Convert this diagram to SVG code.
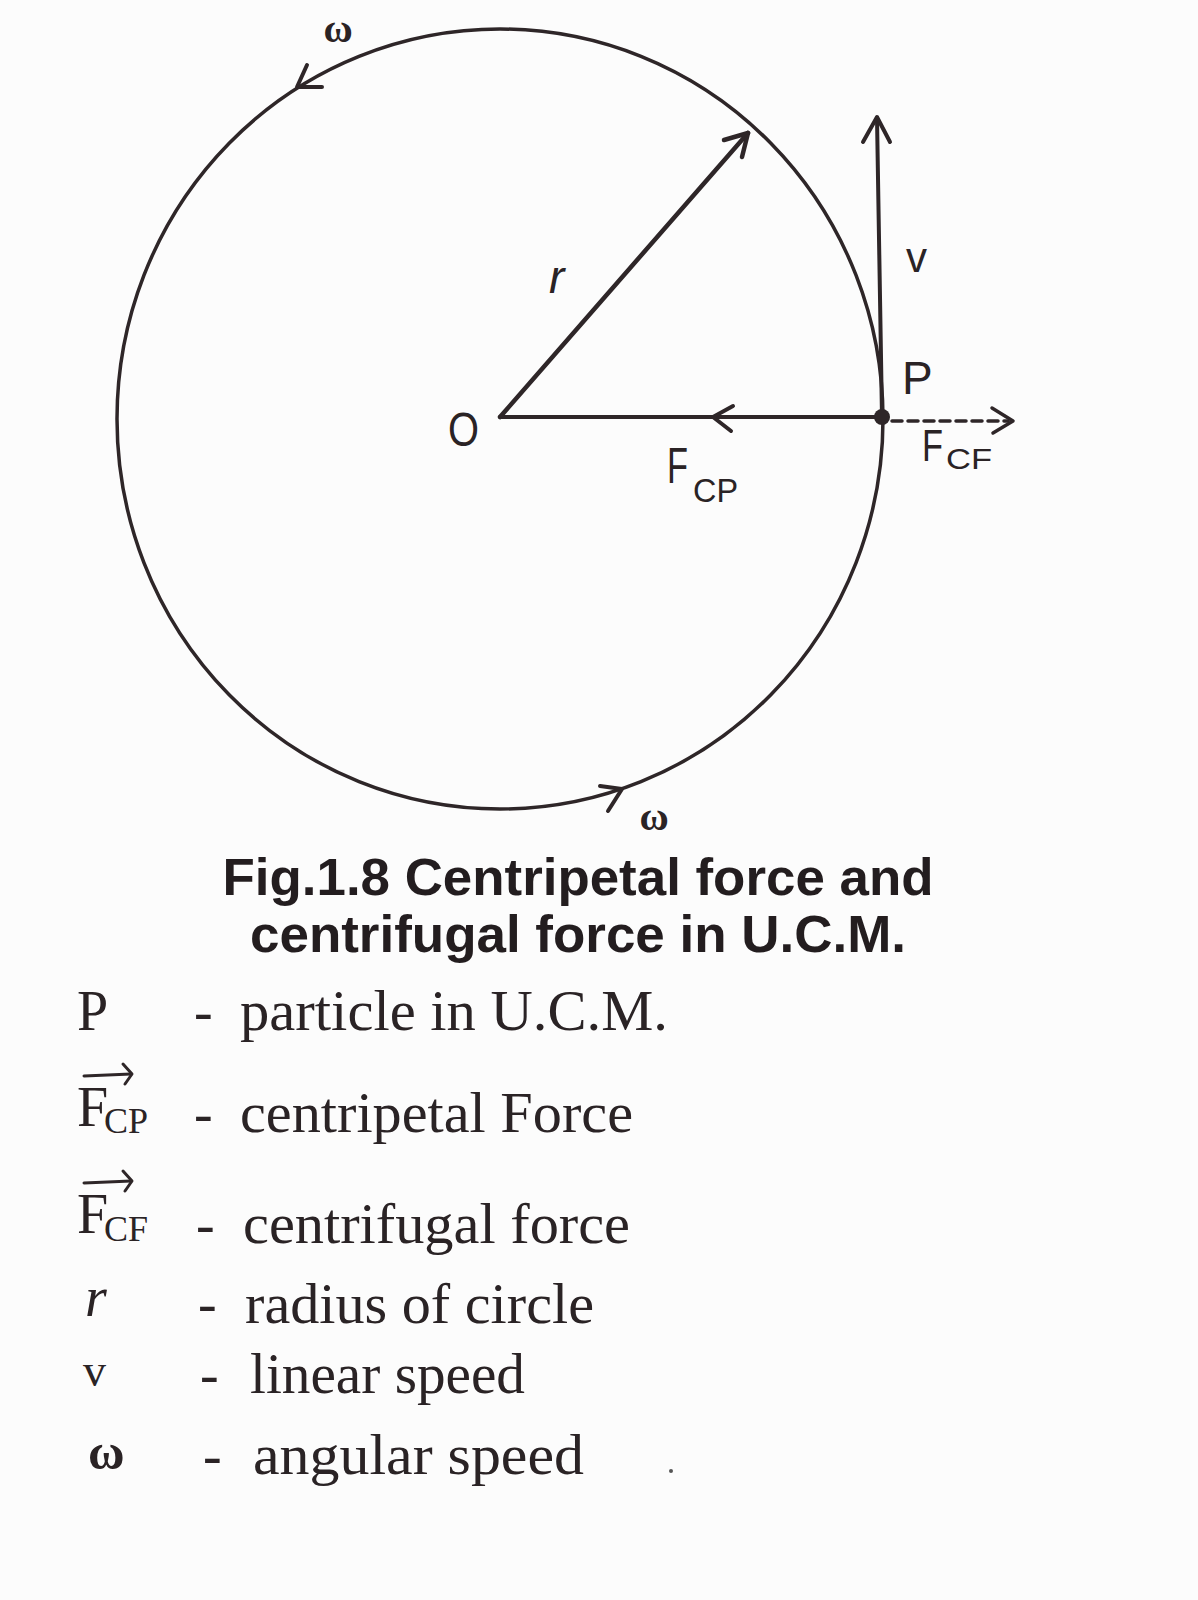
<svg xmlns="http://www.w3.org/2000/svg" width="1198" height="1600" viewBox="0 0 1198 1600">
<style>
.ln{fill:none;stroke:#2e2628;stroke-linecap:round;stroke-linejoin:round}
.sans{font-family:"Liberation Sans",Arial,sans-serif;fill:#2a2325}
.serif{font-family:"Liberation Serif","Times New Roman",serif;fill:#2a2325}
.cap{font-family:"Liberation Sans",Arial,sans-serif;font-weight:bold;fill:#231d1f}
</style>
<rect width="1198" height="1600" fill="#fcfcfc"/>
<g id="circle">
<ellipse class="ln" cx="500" cy="419" rx="383" ry="390" stroke-width="3.5"/>
</g>
<g id="connectors">
<path class="ln" stroke-width="4" d="M307,65 L297,87 L322,87"/>
<path class="ln" stroke-width="4" d="M600,786 L622,789 L608,811"/>
<line class="ln" stroke-width="4.5" x1="500" y1="417" x2="748" y2="133"/>
<path class="ln" stroke-width="4.5" d="M724,140 L748,133 L742,157"/>
<line class="ln" stroke-width="4" x1="500" y1="417" x2="882" y2="417"/>
<path class="ln" stroke-width="4" d="M733,406 L713,417 L731,431"/>
<line class="ln" stroke-width="4" x1="882" y1="417" x2="877" y2="118"/>
<path class="ln" stroke-width="4" d="M863,142 L877,117 L890,142"/>
<line class="ln" stroke-width="3.5" x1="892" y1="421" x2="1008" y2="421" stroke-dasharray="10 6" stroke-linecap="butt"/>
<path class="ln" stroke-width="3.5" d="M992,408 L1013,421 L993,433"/>
</g>
<g id="P">
<circle cx="882" cy="417" r="8" fill="#2e2628"/>
<text class="sans" x="902" y="394" font-size="46">P</text>
</g>
<g id="O">
<text class="sans" x="448" y="446" font-size="48" textLength="31" lengthAdjust="spacingAndGlyphs">O</text>
</g>
<g id="labels">
<text class="sans" x="549" y="293" font-size="46" font-style="italic">r</text>
<text class="sans" x="906" y="272" font-size="42">v</text>
<text class="sans" x="667" y="483" font-size="50" textLength="21" lengthAdjust="spacingAndGlyphs">F</text>
<text class="sans" x="693" y="502" font-size="34" textLength="45" lengthAdjust="spacingAndGlyphs">CP</text>
<text class="sans" x="922" y="461" font-size="44" textLength="21" lengthAdjust="spacingAndGlyphs">F</text>
<text class="sans" x="946" y="469" font-size="30" textLength="46" lengthAdjust="spacingAndGlyphs">CF</text>
<text class="serif" x="338" y="42" font-size="40" font-weight="bold" text-anchor="middle">ω</text>
<text class="serif" x="654" y="830" font-size="40" font-weight="bold" text-anchor="middle">ω</text>
</g>
<g id="caption">
<text class="cap" x="578" y="895" font-size="52" text-anchor="middle" textLength="711" lengthAdjust="spacingAndGlyphs">Fig.1.8 Centripetal force and</text>
<text class="cap" x="578" y="952" font-size="52" text-anchor="middle" textLength="656" lengthAdjust="spacingAndGlyphs">centrifugal force in U.C.M.</text>
</g>
<g id="legend" font-size="56">
<text class="serif" x="77" y="1030">P</text>
<text class="serif" x="194" y="1030">-</text>
<text class="serif" x="240" y="1030" textLength="428" lengthAdjust="spacingAndGlyphs">particle in U.C.M.</text>

<line class="ln" stroke-width="3" x1="84" y1="1076" x2="131" y2="1074"/>
<path class="ln" stroke-width="3" d="M123,1064 L132,1074 L125,1084"/>
<text class="serif" x="77" y="1126">F</text>
<text class="serif" x="104" y="1133" font-size="36">CP</text>
<text class="serif" x="194" y="1132">-</text>
<text class="serif" x="240" y="1132" textLength="393" lengthAdjust="spacingAndGlyphs">centripetal Force</text>

<line class="ln" stroke-width="3" x1="84" y1="1183" x2="131" y2="1181"/>
<path class="ln" stroke-width="3" d="M123,1171 L132,1181 L125,1191"/>
<text class="serif" x="77" y="1233">F</text>
<text class="serif" x="104" y="1241" font-size="36">CF</text>
<text class="serif" x="196" y="1243">-</text>
<text class="serif" x="243" y="1243" textLength="387" lengthAdjust="spacingAndGlyphs">centrifugal force</text>

<text class="serif" x="85" y="1316" font-style="italic">r</text>
<text class="serif" x="198" y="1322">-</text>
<text class="serif" x="245" y="1323" textLength="349" lengthAdjust="spacingAndGlyphs">radius of circle</text>

<text class="serif" x="83" y="1386" font-size="46">v</text>
<text class="serif" x="200" y="1393">-</text>
<text class="serif" x="250" y="1393" textLength="275" lengthAdjust="spacingAndGlyphs">linear speed</text>

<text class="serif" x="88" y="1469" font-size="50" font-weight="bold">ω</text>
<text class="serif" x="203" y="1474">-</text>
<text class="serif" x="253" y="1474" textLength="331" lengthAdjust="spacingAndGlyphs">angular speed</text>
<circle cx="671" cy="1471" r="2" fill="#555"/>
</g>
</svg>
